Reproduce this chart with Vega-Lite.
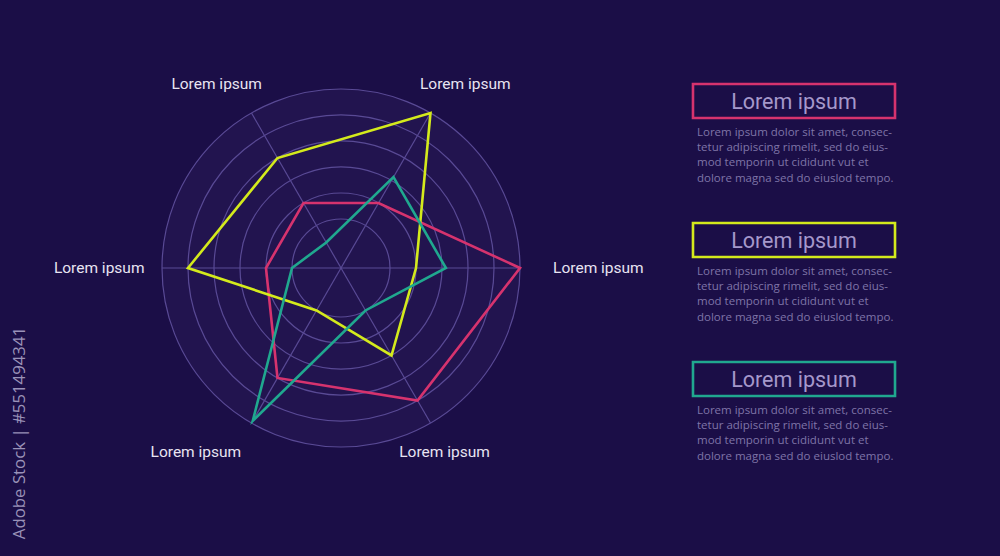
{
  "$schema": "https://vega.github.io/schema/vega-lite/v6.json",
  "width": 1000,
  "height": 556,
  "autosize": {"type": "fit", "contains": "padding"},
  "padding": 0,
  "background": "#1b0e47",
  "config": {"view": {"stroke": null}, "text": {"font": "Roboto"}},
  "datasets": {
    "axes": [
      {"k": 0, "label": "Lorem ipsum"},
      {"k": 1, "label": "Lorem ipsum"},
      {"k": 2, "label": "Lorem ipsum"},
      {"k": 3, "label": "Lorem ipsum"},
      {"k": 4, "label": "Lorem ipsum"},
      {"k": 5, "label": "Lorem ipsum"}
    ],
    "rings": [
      {"level": 1}, {"level": 2}, {"level": 3}, {"level": 4}, {"level": 5}, {"level": 6}
    ],
    "scores": [
      {"series": "Pink", "k": 0, "v": 6},
      {"series": "Pink", "k": 1, "v": 2},
      {"series": "Pink", "k": 2, "v": 2},
      {"series": "Pink", "k": 3, "v": 2},
      {"series": "Pink", "k": 4, "v": 4},
      {"series": "Pink", "k": 5, "v": 5},
      {"series": "Yellow", "k": 0, "v": 2},
      {"series": "Yellow", "k": 1, "v": 6},
      {"series": "Yellow", "k": 2, "v": 4},
      {"series": "Yellow", "k": 3, "v": 5},
      {"series": "Yellow", "k": 4, "v": 1},
      {"series": "Yellow", "k": 5, "v": 3},
      {"series": "Teal", "k": 0, "v": 3.15},
      {"series": "Teal", "k": 1, "v": 3.15},
      {"series": "Teal", "k": 2, "v": 0.25},
      {"series": "Teal", "k": 3, "v": 1},
      {"series": "Teal", "k": 4, "v": 5.9},
      {"series": "Teal", "k": 5, "v": 1}
    ],
    "legend": [
      {"series": "Pink", "rank": 0, "title": "Lorem ipsum", "body": "Lorem ipsum dolor sit amet, consec-\ntetur adipiscing rimelit, sed do eius-\nmod temporin ut cididunt vut et\ndolore magna sed do eiuslod tempo."},
      {"series": "Yellow", "rank": 1, "title": "Lorem ipsum", "body": "Lorem ipsum dolor sit amet, consec-\ntetur adipiscing rimelit, sed do eius-\nmod temporin ut cididunt vut et\ndolore magna sed do eiuslod tempo."},
      {"series": "Teal", "rank": 2, "title": "Lorem ipsum", "body": "Lorem ipsum dolor sit amet, consec-\ntetur adipiscing rimelit, sed do eius-\nmod temporin ut cididunt vut et\ndolore magna sed do eiuslod tempo."}
    ],
    "credit": [{"text": "Adobe Stock | #551494341"}]
  },
  "layer": [
    {
      "data": {"name": "rings"},
      "transform": [
        {"filter": "datum.level == 6"},
        {"calculate": "datum.level + 0.885", "as": "rr"},
        {"calculate": "0", "as": "ox"},
        {"calculate": "0", "as": "oy"}
      ],
      "mark": {"type": "point", "filled": true, "color": "#22144f", "opacity": 1, "strokeWidth": 0},
      "encoding": {
        "x": {"field": "ox", "type": "quantitative", "scale": {"domain": [-13.115, 25.346], "nice": false, "zero": false}, "axis": null},
        "y": {"field": "oy", "type": "quantitative", "scale": {"domain": [-11.077, 10.308], "nice": false, "zero": false}, "axis": null},
        "size": {"field": "rr", "type": "quantitative", "scale": {"type": "pow", "exponent": 2, "domain": [0, 6.885], "range": [0, 128164]}, "legend": null}
      }
    },
    {
      "data": {"name": "rings"},
      "transform": [
        {"calculate": "datum.level + 0.885", "as": "rr"},
        {"calculate": "0", "as": "ox"},
        {"calculate": "0", "as": "oy"}
      ],
      "mark": {"type": "point", "filled": false, "color": "#594a95", "opacity": 1, "strokeWidth": 1.2},
      "encoding": {
        "x": {"field": "ox", "type": "quantitative", "scale": {"domain": [-13.115, 25.346], "nice": false, "zero": false}, "axis": null},
        "y": {"field": "oy", "type": "quantitative", "scale": {"domain": [-11.077, 10.308], "nice": false, "zero": false}, "axis": null},
        "size": {"field": "rr", "type": "quantitative", "scale": {"type": "pow", "exponent": 2, "domain": [0, 6.885], "range": [0, 128164]}, "legend": null}
      }
    },
    {
      "data": {"name": "axes"},
      "transform": [
        {"calculate": "0", "as": "ox"},
        {"calculate": "0", "as": "oy"},
        {"calculate": "6.885 * cos(datum.k * PI / 3)", "as": "ex"},
        {"calculate": "6.885 * sin(datum.k * PI / 3)", "as": "ey"}
      ],
      "mark": {"type": "rule", "color": "#594a95", "strokeWidth": 1.2},
      "encoding": {
        "x": {"field": "ox", "type": "quantitative", "scale": {"domain": [-13.115, 25.346], "nice": false, "zero": false}, "axis": null},
        "y": {"field": "oy", "type": "quantitative", "scale": {"domain": [-11.077, 10.308], "nice": false, "zero": false}, "axis": null},
        "x2": {"field": "ex"},
        "y2": {"field": "ey"}
      }
    },
    {
      "data": {"name": "scores"},
      "transform": [
        {"calculate": "datum.v + 0.885", "as": "rr"},
        {"calculate": "datum.rr * cos(datum.k * PI / 3)", "as": "px"},
        {"calculate": "datum.rr * sin(datum.k * PI / 3)", "as": "py"}
      ],
      "mark": {"type": "line", "interpolate": "linear-closed", "strokeWidth": 2.6, "strokeJoin": "miter"},
      "encoding": {
        "x": {"field": "px", "type": "quantitative", "scale": {"domain": [-13.115, 25.346], "nice": false, "zero": false}, "axis": null},
        "y": {"field": "py", "type": "quantitative", "scale": {"domain": [-11.077, 10.308], "nice": false, "zero": false}, "axis": null},
        "color": {"field": "series", "type": "nominal", "scale": {"domain": ["Pink", "Yellow", "Teal"], "range": ["#d6336e", "#d4ea1c", "#20a88f"]}, "legend": null},
        "order": {"field": "k", "type": "quantitative"}
      }
    },
    {
      "data": {"name": "axes"},
      "transform": [
        {"calculate": "(datum.k == 0 || datum.k == 3) ? 9.6 : 8.55", "as": "lr"},
        {"calculate": "(datum.k == 0 || datum.k == 3) ? datum.k * PI / 3 : (datum.k == 1 ? 56 : datum.k == 2 ? 124 : datum.k == 4 ? 236 : 304) * PI / 180", "as": "la"},
        {"calculate": "datum.lr * cos(datum.la) + ((datum.k == 0 || datum.k == 3) ? 0.3 : (datum.k > 3 ? -0.8 : 0))", "as": "lx"},
        {"calculate": "datum.lr * sin(datum.la)", "as": "ly"}
      ],
      "mark": {"type": "text", "fontSize": 15.5, "color": "#e8e4f2", "align": "center", "baseline": "middle"},
      "encoding": {
        "x": {"field": "lx", "type": "quantitative", "scale": {"domain": [-13.115, 25.346], "nice": false, "zero": false}, "axis": null},
        "y": {"field": "ly", "type": "quantitative", "scale": {"domain": [-11.077, 10.308], "nice": false, "zero": false}, "axis": null},
        "text": {"field": "label"}
      }
    },
    {
      "data": {"name": "legend"},
      "transform": [
        {"calculate": "6.423 - datum.rank * 5.346", "as": "cy"},
        {"calculate": "datum.cy + 0.654", "as": "by1"},
        {"calculate": "datum.cy - 0.654", "as": "by2"},
        {"calculate": "13.538", "as": "bx1"},
        {"calculate": "21.308", "as": "bx2"}
      ],
      "mark": {"type": "rect", "fillOpacity": 0, "strokeWidth": 2.6},
      "encoding": {
        "x": {"field": "bx1", "type": "quantitative", "scale": {"domain": [-13.115, 25.346], "nice": false, "zero": false}, "axis": null},
        "x2": {"field": "bx2"},
        "y": {"field": "by1", "type": "quantitative", "scale": {"domain": [-11.077, 10.308], "nice": false, "zero": false}, "axis": null},
        "y2": {"field": "by2"},
        "stroke": {"field": "series", "type": "nominal", "scale": {"domain": ["Pink", "Yellow", "Teal"], "range": ["#d6336e", "#d4ea1c", "#20a88f"]}, "legend": null}
      }
    },
    {
      "data": {"name": "legend"},
      "transform": [
        {"calculate": "6.423 - datum.rank * 5.346", "as": "cy"},
        {"calculate": "17.423", "as": "tx"}
      ],
      "mark": {"type": "text", "fontSize": 21.5, "color": "#a598cb", "align": "center", "baseline": "alphabetic", "dy": 8},
      "encoding": {
        "x": {"field": "tx", "type": "quantitative", "scale": {"domain": [-13.115, 25.346], "nice": false, "zero": false}, "axis": null},
        "y": {"field": "cy", "type": "quantitative", "scale": {"domain": [-11.077, 10.308], "nice": false, "zero": false}, "axis": null},
        "text": {"field": "title"}
      }
    },
    {
      "data": {"name": "legend"},
      "transform": [
        {"calculate": "6.423 - datum.rank * 5.346", "as": "cy"},
        {"calculate": "13.692", "as": "tx"}
      ],
      "mark": {"type": "text", "font": "Open Sans", "fontSize": 11.5, "color": "#7f75a8", "align": "left", "baseline": "alphabetic", "dy": 35.3, "lineBreak": "\n", "lineHeight": 15.1},
      "encoding": {
        "x": {"field": "tx", "type": "quantitative", "scale": {"domain": [-13.115, 25.346], "nice": false, "zero": false}, "axis": null},
        "y": {"field": "cy", "type": "quantitative", "scale": {"domain": [-11.077, 10.308], "nice": false, "zero": false}, "axis": null},
        "text": {"field": "body"}
      }
    },
    {
      "data": {"name": "credit"},
      "transform": [
        {"calculate": "-12.346", "as": "tx"},
        {"calculate": "-6.346", "as": "ty"}
      ],
      "mark": {"type": "text", "font": "Open Sans", "fontSize": 16.8, "color": "#9a92b8", "angle": 270, "align": "center", "baseline": "middle"},
      "encoding": {
        "x": {"field": "tx", "type": "quantitative", "scale": {"domain": [-13.115, 25.346], "nice": false, "zero": false}, "axis": null},
        "y": {"field": "ty", "type": "quantitative", "scale": {"domain": [-11.077, 10.308], "nice": false, "zero": false}, "axis": null},
        "text": {"field": "text"}
      }
    }
  ]
}
